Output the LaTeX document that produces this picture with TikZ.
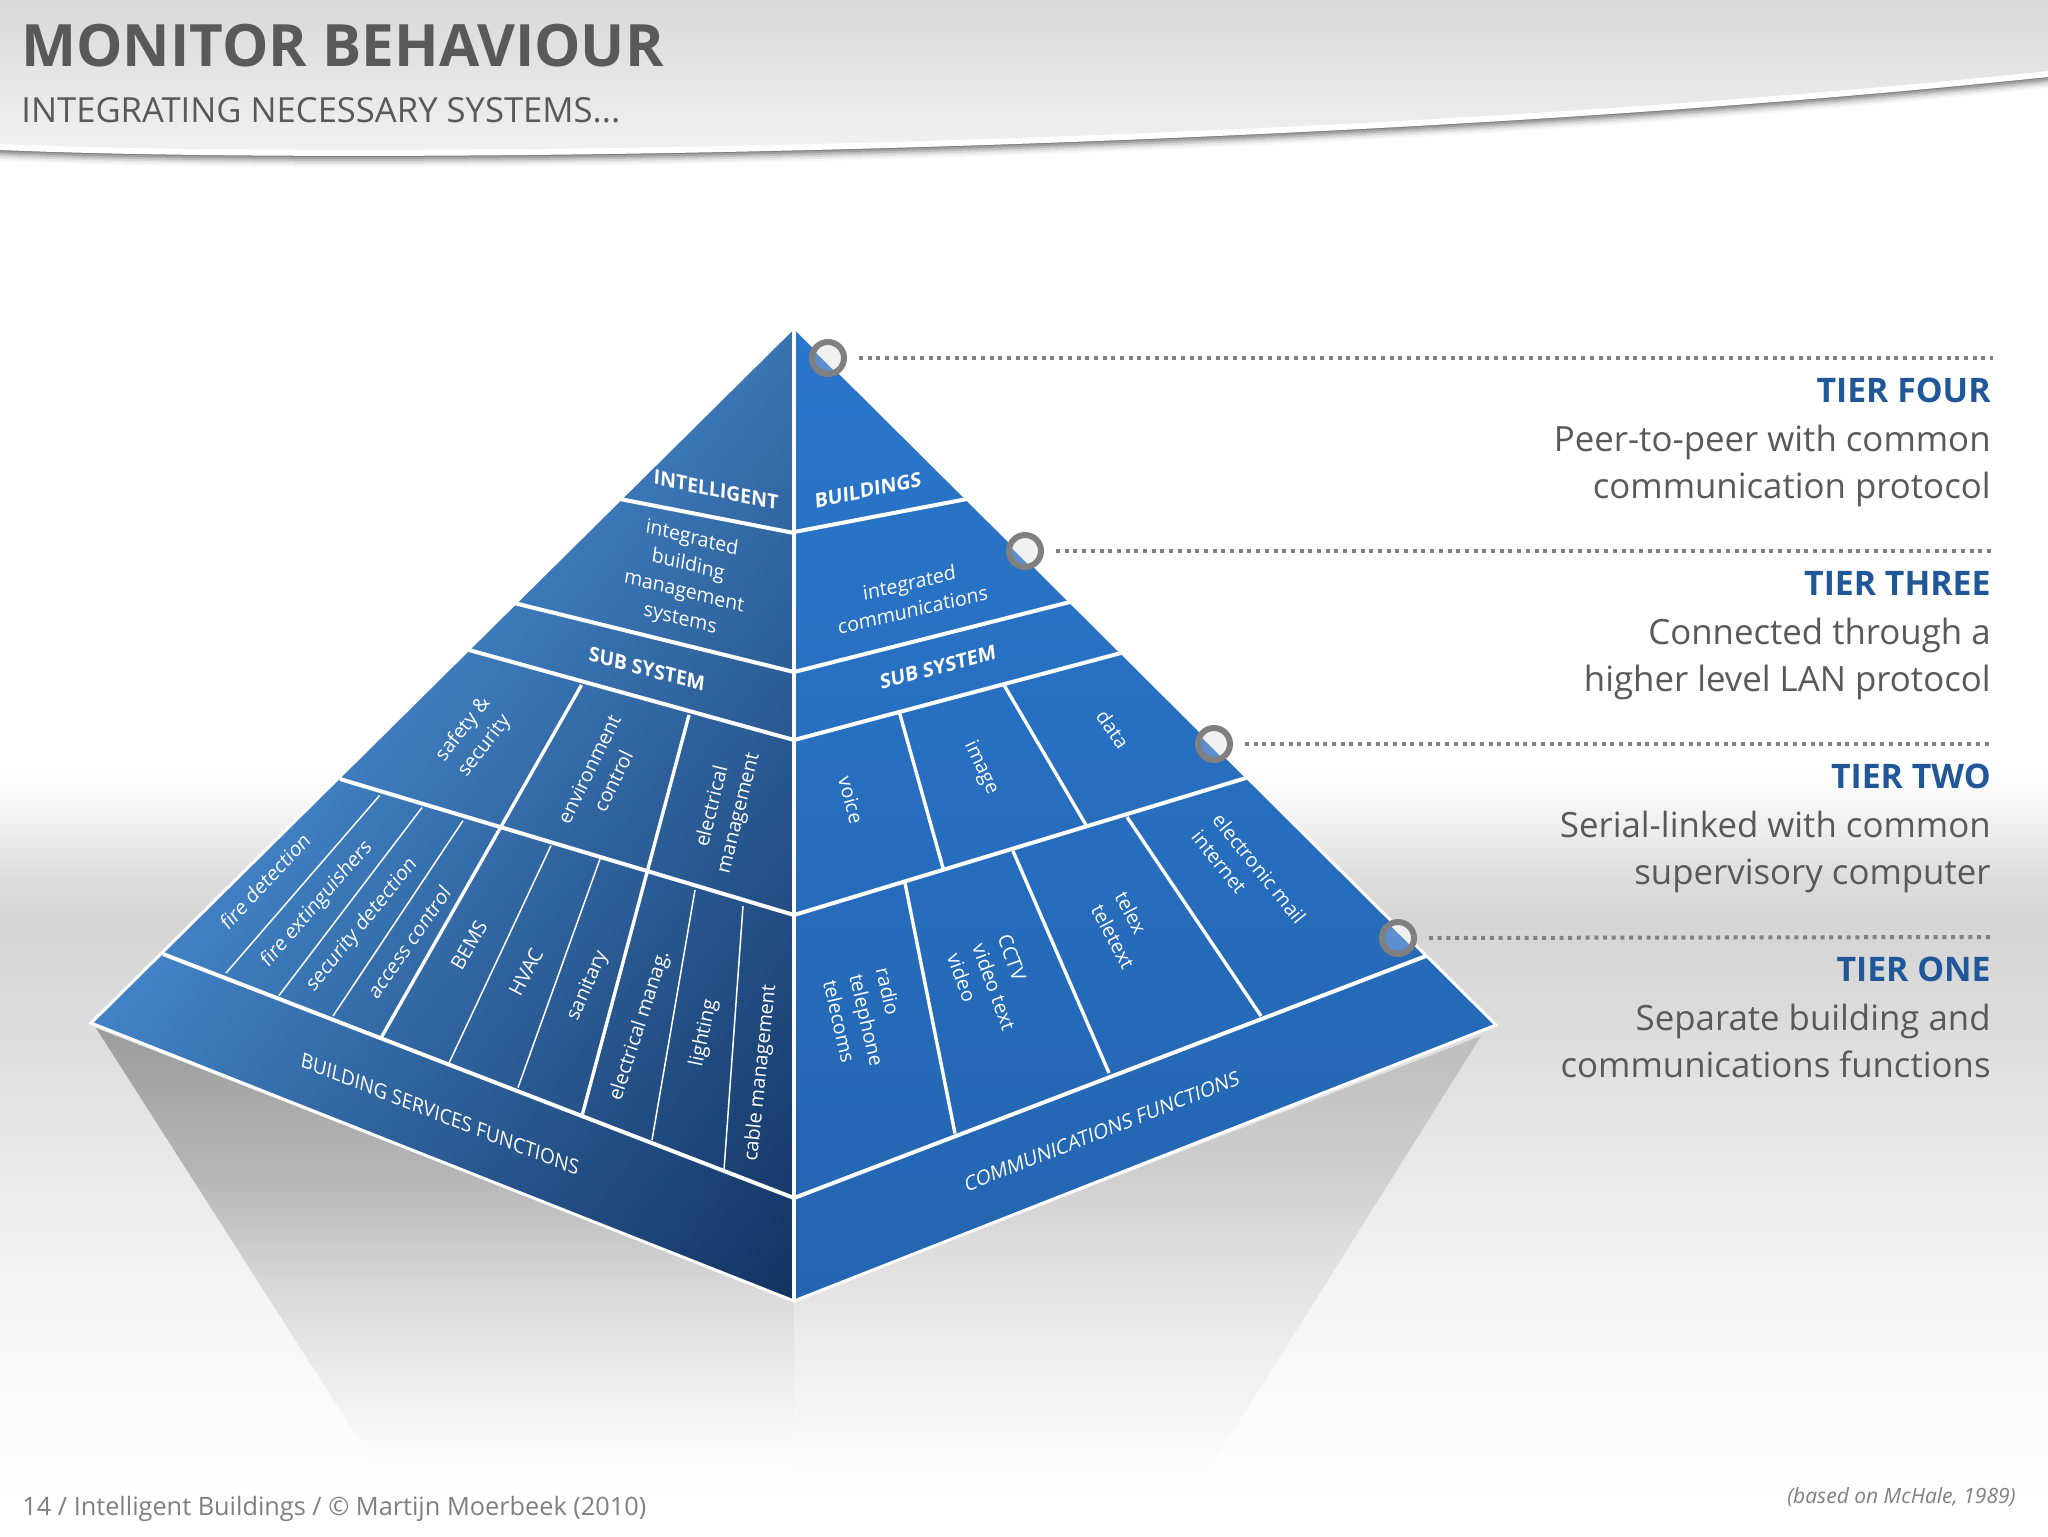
\documentclass[tikz,border=0pt]{standalone}
\usepackage{fontspec}
\setmainfont{Open Sans}
\definecolor{txtgray}{HTML}{595959}
\definecolor{tierblue}{HTML}{1F5799}
\definecolor{ringgray}{HTML}{808080}
\definecolor{footgray}{HTML}{7F7F7F}
\definecolor{lfa}{HTML}{4283C6}
\definecolor{lfb}{HTML}{133463}
\definecolor{rfa}{HTML}{2A76CC}
\definecolor{rfb}{HTML}{2365B0}
\definecolor{ringblue}{HTML}{5B8FCF}
\pgfdeclareverticalshading{bgshade}{100bp}{
 color(0bp)=(white); color(26.2bp)=(white);
 color(32.7bp)=(black!4); color(39.2bp)=(black!11); color(42.4bp)=(black!14.5);
 color(45bp)=(black!16.5); color(46.4bp)=(black!13.5); color(47.7bp)=(black!8); color(49bp)=(black!3);
 color(49.9bp)=(white); color(100bp)=(white)}
\pgfdeclareverticalshading{headshade}{100bp}{
 color(0bp)=(black!5); color(25bp)=(black!5); color(75bp)=(black!15); color(100bp)=(black!15)}
\pgfdeclareverticalshading{lshadow}{100bp}{
 color(0bp)=(black!1); color(25bp)=(black!1); color(32.7bp)=(black!6);
 color(44.8bp)=(black!15); color(57bp)=(black!28); color(75bp)=(black!39); color(100bp)=(black!39)}
\pgfdeclareverticalshading{rshadow}{100bp}{
 color(0bp)=(black!0.5); color(25bp)=(black!0.5); color(38bp)=(black!6);
 color(49bp)=(black!12); color(60bp)=(black!19); color(75bp)=(black!26); color(100bp)=(black!26)}
% 1600-unit square: 50bp of the shading spans it, the colours change over 721 units
\pgfdeclarehorizontalshading{lface}{100bp}{
 color(0bp)=(lfa); color(38.73bp)=(lfa); color(61.27bp)=(lfb); color(100bp)=(lfb)}
\tikzset{
 major/.style={draw=white,line width=2pt},
 cell/.style={draw=white,line width=1.7pt},
 minor/.style={draw=white,line width=0.75pt},
 lab/.style={text=white,font=\fontsize{9.9}{13.5}\selectfont,align=center,inner sep=0pt},
 labl/.style={text=white,font=\fontsize{9.9}{13.5}\selectfont,align=left,inner sep=0pt},
 labb/.style={text=white,font=\fontsize{9.9}{13.5}\selectfont\bfseries,align=center,inner sep=0pt},
 tierhead/.style={anchor=base east,text=tierblue,font=\fontsize{16.9}{20}\selectfont\bfseries,inner sep=0pt},
 tiertext/.style={anchor=base east,text=txtgray,font=\fontsize{17.4}{20}\selectfont,inner sep=0pt},
 ring/.style={circle,draw=ringgray,line width=3pt,minimum size=16pt,inner sep=0pt},
 leader/.style={draw=ringgray,line width=2pt,dash pattern=on 2pt off 2.35pt}
}
\newcommand{\headcurve}[1]{(0,150+#1) .. controls (350,165+#1) and (1300,155+#1) .. (2048,77+#1)}
\begin{document}
\begin{tikzpicture}[x=0.5pt,y=-0.5pt]
\useasboundingbox (0,0) rectangle (2048,1536);
% background
\shade[shading=bgshade] (0,0) rectangle (2048,1536);
% header
\foreach \k/\o in {11/.03,9/.05,7/.08,5/.12,3/.15,1/.2}{
  \fill[black,opacity=\o] \headcurve{\k} -- (2048,0) -- (0,0) -- cycle;
}
\fill[white] \headcurve{0} -- (2048,0) -- (0,0) -- cycle;
\shade[shading=headshade] \headcurve{-6} -- (2048,0) -- (0,0) -- cycle;
\node[anchor=base west,text=txtgray,font=\fontsize{29.2}{32}\selectfont\bfseries,inner sep=0pt] (title) at (21,67) {MONITOR BEHAVIOUR};
\node[anchor=base west,text=txtgray,font=\fontsize{17.3}{20}\selectfont,inner sep=0pt] (subtitle) at (21,122) {INTEGRATING NECESSARY SYSTEMS...};
% shadows
\shade[shading=lshadow] (96,1028) -- (794,1301) -- (794,1460) -- (372,1460) -- cycle;
\shade[shading=rshadow] (1481,1036) -- (794,1301) -- (794,1484) -- (1200,1484) -- cycle;
% left face
\begin{scope}
\clip (794,327) -- (91,1023) -- (794,1301) -- cycle;
\shade[shading=lface,shading angle=-36.8] (-246,206) rectangle (1354,1806);
\end{scope}
% right face
\shade[top color=rfa,bottom color=rfb] (794,327) -- (1496,1025) -- (794,1301) -- cycle;
% left lines
\draw[major] (620,499) -- (794,533);
\draw[major] (514,603) -- (794,672);
\draw[major] (469,650) -- (794,740);
\draw[major] (340,779) -- (794,915);
\draw[major] (163,954) -- (794,1198);
\draw[cell] (581.5,685) -- (381.5,1037);
\draw[cell] (689,715) -- (582.5,1114);
\foreach \a/\b/\c/\d in {379.6/795.5/226/973, 422/807.6/279/995.5, 463/820.7/333/1016, 551/845.5/449/1063, 600/859/518/1087.6, 695/890/652/1140, 743/906/724/1170}{
  \draw[minor] (\a,\b) -- (\c,\d);
}
% right lines
\draw[major] (794,532) -- (967,499);
\draw[major] (794,672) -- (1070,602);
\draw[major] (794,740) -- (1121,653);
\draw[major] (794,915) -- (1246,778);
\draw[major] (794,1198) -- (1426,956);
\draw[cell] (899.6,713) -- (943,868);
\draw[cell] (1004,685) -- (1086,825);
\draw[cell] (905,883) -- (955,1133.5);
\draw[cell] (1013,851) -- (1109,1073);
\draw[cell] (1127,817) -- (1261,1016);
% outline and centre
\draw[white,line width=1.5pt,line join=miter] (794,327) -- (91,1023) -- (794,1301) -- (1496,1025) -- cycle;
\draw[white,line width=2.2pt] (794,327) -- (794,1301);
% left labels
\node[labb,rotate=-12,xslant=-.15] (l1) at (716,490) {INTELLIGENT};
\node[lab,rotate=-14,xslant=-.1] (l2) at (686,579) {integrated\\building\\management\\systems};
\node[labb,rotate=-15,xslant=-.15] (l3) at (647,669) {SUB SYSTEM};
\node[lab,rotate=52] (l4) at (474,738) {safety \&\\security};
\node[lab,rotate=64] (l5) at (601,775) {environment\\control};
\node[lab,rotate=76] (l6) at (726,810) {electrical\\management};
\node[lab,rotate=47,xslant=.15] (l7) at (265,881) {fire detection};
\node[lab,rotate=49,xslant=.15] (l8) at (317,904) {fire extinguishers};
\node[lab,rotate=51,xslant=.15] (l9) at (362,925) {security detection};
\node[lab,rotate=55,xslant=.15] (l10) at (409,942) {access control};
\node[lab,rotate=60] (l11) at (469,945) {BEMS};
\node[lab,rotate=62] (l12) at (526,972) {HVAC};
\node[lab,rotate=66] (l13) at (588,986) {sanitary};
\node[lab,rotate=72] (l14) at (640,1026) {electrical manag.};
\node[lab,rotate=78] (l15) at (704,1033) {lighting};
\node[lab,rotate=84] (l16) at (761,1073) {cable management};
\node[lab,rotate=-21.5,xslant=-.2] (l17) at (440,1114) {BUILDING SERVICES FUNCTIONS};
% right labels
\node[labb,rotate=12,xslant=.15] (r1) at (868,490) {BUILDINGS};
\node[lab,rotate=13,xslant=.1] (r2) at (911,596) {integrated\\communications};
\node[labb,rotate=15,xslant=.15] (r3) at (938,667) {SUB SYSTEM};
\node[lab,rotate=-75] (r4) at (851,800) {voice};
\node[lab,rotate=-65] (r5) at (981,768) {image};
\node[lab,rotate=-55] (r6) at (1113,729) {data};
\node[labl,rotate=-77] (r7) at (867,1020) {radio\\telephone\\telecoms};
\node[labl,rotate=-70] (r8) at (994,987) {CCTV\\video text\\video};
\node[labl,rotate=-62] (r9) at (1125,930) {telex\\teletext};
\node[labl,rotate=-51] (r10) at (1249,877) {electronic mail\\internet};
\node[lab,rotate=21.5,xslant=.2] (r11) at (1102,1131) {COMMUNICATIONS FUNCTIONS};
% rings
\foreach \n/\x/\y in {t4/828/358,t3/1025/551,t2/1214/744,t1/1398/938}{
  \fill[black!6] (\x,\y) circle (18);
  \begin{scope}
    \clip (790,327) -- (1490,1025) -- (794,1301) -- cycle;
    \fill[ringblue] (\x,\y) circle (18);
  \end{scope}
  \node[ring] (\n) at (\x,\y) {};
}
\coordinate (e4) at (1993,358);
\coordinate (e3) at (1993,551);
\coordinate (e2) at (1993,744);
\coordinate (e1) at (1993,937);
\draw[leader] ([xshift=6pt]t4.east) -- (e4);
\draw[leader] ([xshift=6pt]t3.east) -- (e3);
\draw[leader] ([xshift=6pt]t2.east) -- (e2);
\draw[leader] ([xshift=6pt]t1.east) -- (e1);
% tier text
\node[tierhead] (h4) at (1991,402) {TIER FOUR};
\node[tiertext] (a4) at (1991,451) {Peer-to-peer with common};
\node[tiertext] (b4) at (1991,498) {communication protocol};
\node[tierhead] (h3) at (1991,595) {TIER THREE};
\node[tiertext] (a3) at (1991,644) {Connected through a};
\node[tiertext] (b3) at (1991,691) {higher level LAN protocol};
\node[tierhead] (h2) at (1991,788) {TIER TWO};
\node[tiertext] (a2) at (1991,837) {Serial-linked with common};
\node[tiertext] (b2) at (1991,884) {supervisory computer};
\node[tierhead] (h1) at (1991,981) {TIER ONE};
\node[tiertext] (a1) at (1991,1030) {Separate building and};
\node[tiertext] (b1) at (1991,1077) {communications functions};
% footer
\node[anchor=base west,text=footgray,font=\fontsize{12.65}{14}\selectfont,inner sep=0pt] (foot) at (22,1515) {14 / Intelligent Buildings / © Martijn Moerbeek (2010)};
\node[anchor=base east,text=footgray,font=\fontsize{10.5}{14}\selectfont\itshape,inner sep=0pt] (src) at (2016,1503) {(based on McHale, 1989)};
\end{tikzpicture}
\end{document}
